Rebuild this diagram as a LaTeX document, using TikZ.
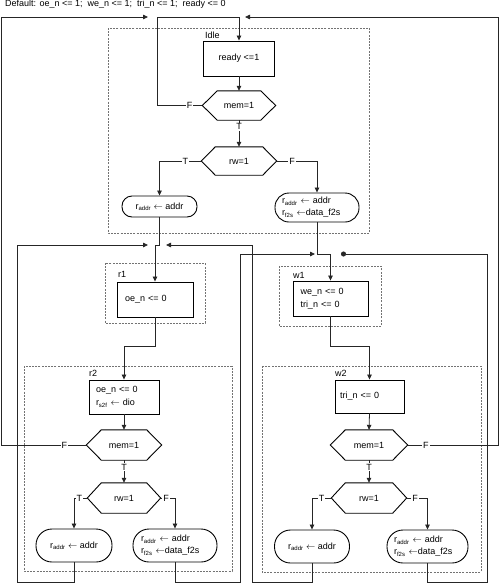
\documentclass[tikz,border=0pt]{standalone}
\usepackage{fontspec}
\setmainfont{Liberation Sans}
\usetikzlibrary{arrows.meta}
\newcommand\hexframe[2]{\draw[boxln] (#1.west) -- ([xshift=#2]#1.north west) -- ([xshift=-#2]#1.north east) -- (#1.east) -- ([xshift=-#2]#1.south east) -- ([xshift=#2]#1.south west) -- cycle;}
\tikzset{
  base/.style={font=\fontsize{9}{13}\selectfont},
  flow/.style={line width=0.8pt, draw=black!85},
  boxln/.style={line width=0.9pt, draw=black},
  lbl/.style={base, fill=white, inner sep=1pt},
  grp/.style={draw=black!55, line width=0.5pt, dash pattern=on 2pt off 1.2pt},
  glbl/.style={base, inner sep=0pt},
  proc/.style={draw, line width=0.9pt, base, inner sep=0pt},
  hexn/.style={base, inner sep=0pt},
  term/.style={draw, line width=0.9pt, base, inner sep=0pt},
}
\begin{document}
\begin{tikzpicture}[x=1pt,y=-1pt,>={Triangle[length=5pt,width=4.5pt]}]
\useasboundingbox (0,0) rectangle (500,584);

% title
\node[base, anchor=base west, inner sep=0pt] (title) at (5,6) {Default: oe\_n <= 1;\ \ we\_n <= 1;\ \ tri\_n <= 1;\ \ ready <= 0};

% state groups
\draw[grp] (108,28) rectangle (369,233);
\node[glbl, anchor=west] (lidle) at (205,35) {Idle};
\draw[grp] (105,263) rectangle (205,323);
\node[glbl, anchor=west] (lr1) at (118,274) {r1};
\draw[grp] (279,266) rectangle (381,326);
\node[glbl, anchor=west] (lw1) at (293,275) {w1};
\draw[grp] (24,366) rectangle (232,571);
\node[glbl, anchor=west] (lr2) at (89,373) {r2};
\draw[grp] (262,366) rectangle (481,572);
\node[glbl, anchor=west] (lw2) at (335,373) {w2};

% idle
\node[proc, minimum width=71pt, minimum height=35pt] (ready) at (239,58.5) {ready <=1};
\node[hexn, minimum width=73pt, minimum height=29pt] (mem0) at (239,105.5) {mem=1};
\node[hexn, minimum width=75pt, minimum height=28pt] (rw0) at (239,161) {rw=1};
\node[term, minimum width=75pt, minimum height=21pt, rounded corners=10pt] (ra0) at (159.5,206.5) {r\textsubscript{addr} $\leftarrow$ addr};
\node[term, minimum width=84pt, minimum height=29pt, rounded corners=14pt, text width=70pt, align=left] (rf0) at (317,207.5) {r\textsubscript{addr} $\leftarrow$ addr\\[-1pt]r\textsubscript{f2s} $\leftarrow$data\_f2s};

% r1, w1
\node[proc, minimum width=76pt, minimum height=35pt, text width=60pt, align=left] (r1box) at (155,299.5) {oe\_n <= 0};
\node[proc, minimum width=75pt, minimum height=35pt, text width=60pt, align=left] (w1box) at (330.5,298.5) {we\_n <= 0\\tri\_n <= 0};

% r2
\node[proc, minimum width=70pt, minimum height=34pt, text width=56pt, align=left] (r2box) at (124,397) {oe\_n <= 0\\r\textsubscript{s2f} $\leftarrow$ dio};
\node[hexn, minimum width=75pt, minimum height=30pt] (memr) at (124,445) {mem=1};
\node[hexn, minimum width=73pt, minimum height=30pt] (rwr) at (124,498) {rw=1};
\node[term, minimum width=76pt, minimum height=33pt, rounded corners=16pt] (rar) at (74,545.5) {r\textsubscript{addr} $\leftarrow$ addr};
\node[term, minimum width=84pt, minimum height=33pt, rounded corners=16pt, text width=68pt, align=left] (rfr) at (175,545.5) {r\textsubscript{addr} $\leftarrow$ addr\\[-1pt]r\textsubscript{f2s} $\leftarrow$data\_f2s};

% w2
\node[proc, minimum width=69pt, minimum height=33pt, text width=59pt, align=left] (w2box) at (369.5,396.5) {tri\_n <= 0};
\node[hexn, minimum width=77pt, minimum height=30pt] (memw) at (369,445) {mem=1};
\node[hexn, minimum width=75pt, minimum height=30pt] (rww) at (369,498) {rw=1};
\node[term, minimum width=75pt, minimum height=33pt, rounded corners=16pt] (raw) at (312,546.5) {r\textsubscript{addr} $\leftarrow$ addr};
\node[term, minimum width=81pt, minimum height=33pt, rounded corners=16pt, text width=67pt, align=left] (rfw) at (427.5,546.5) {r\textsubscript{addr} $\leftarrow$ addr\\[-1pt]r\textsubscript{f2s} $\leftarrow$data\_f2s};

\hexframe{mem0}{15pt}
\hexframe{rw0}{14pt}
\hexframe{memr}{15pt}
\hexframe{rwr}{14pt}
\hexframe{memw}{15pt}
\hexframe{rww}{14pt}

% junction points
\coordinate (inL) at (148,17);
\coordinate (inR) at (245,17);
\coordinate (itop) at (ready.north |- inL);
\coordinate (rjL) at (148,245);
\coordinate (rjR) at (166,245);
\coordinate (wjL) at (315,254);
\coordinate (wjR) at (341,254);

% idle connectors
\draw[flow,->] (mem0.west) -- node[lbl,pos=.28] (f0) {F} (157,105.5) |- (itop) -- (ready.north);
\draw[flow,->] (ready.south) -- (mem0.north);
\draw[flow,->] (mem0.south) -- node[lbl,pos=.25] (t0) {T} (rw0.north);
\draw[flow,->] (rw0.west) -| node[lbl,pos=.19] (t1) {T} (ra0.north);
\draw[flow,->] (rw0.east) -| node[lbl,pos=.19] (f1) {F} (rf0.north);
\draw[flow,->] (ra0.south) -- (ra0.south |- rjL) -- (r1box.north |- rjL) -- (r1box.north);
\draw[flow,->] (rf0.south) -- (rf0.south |- wjL) -- (w1box.north |- wjL) -- (w1box.north);
\draw[flow,->] (r1box.south) -- ++(0,29) -| (r2box.north);
\draw[flow,->] (w1box.south) -- ++(0,30) -| (w2box.north);

% r2 connectors
\draw[flow,->] (r2box.south) -- (memr.north);
\draw[flow,->] (memr.south) -- node[lbl,pos=.3] (t2) {T} (rwr.north);
\draw[flow,->] (memr.west) -- node[lbl,pos=.26] (f2) {F} (1.5,445) |- (inL);
\draw[flow,->] (rwr.west) -| node[lbl,pos=.3] (t3) {T} (rar.north);
\draw[flow,->] (rwr.east) -| node[lbl,pos=.19] (f3) {F} (rfr.north);
\draw[flow,->] (rar.south) |- (17,582) -- (17,245) -- (rjL);
\draw[flow,->] (rfr.south) |- (240,582) -- (240,254) -- (wjL);

% w2 connectors
\draw[flow,->] (w2box.south) -- (memw.north);
\draw[flow,->] (memw.south) -- node[lbl,pos=.3] (t4) {T} (rww.north);
\draw[flow,->] (memw.east) -- node[lbl,pos=.2] (f4) {F} (498.5,445) |- (inR);
\draw[flow,->] (rww.west) -| node[lbl,pos=.25] (t5) {T} (raw.north);
\draw[flow,->] (rww.east) -| node[lbl,pos=.2] (f5) {F} (rfw.north);
\draw[flow,->] (raw.south) |- (252,582) -- (252,245) -- (rjR);
\draw[flow,-{Circle[length=5pt]}] (rfw.south) |- (487,582) -- (487,254) -- (wjR);
\end{tikzpicture}
\end{document}
